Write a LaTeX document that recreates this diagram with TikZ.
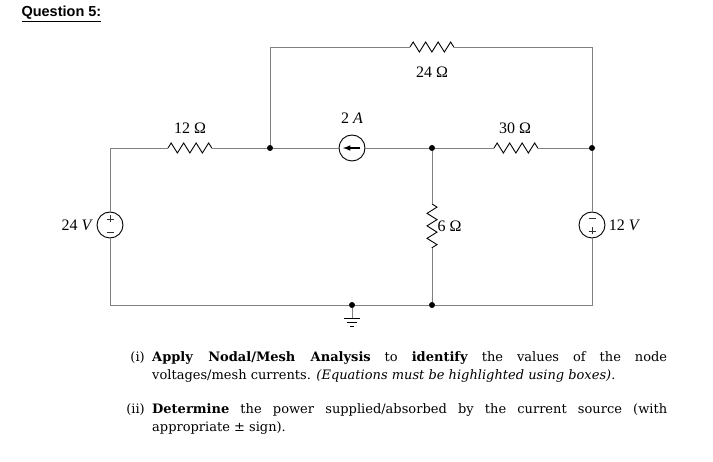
\documentclass[tikz,border=0pt]{standalone}
\usepackage{fontspec}
\usetikzlibrary{decorations.pathmorphing,calc}
\newfontfamily\titlefont{Liberation Sans}
\newfontfamily\bodyfont{DejaVu Serif}
\newfontfamily\labelfont{Liberation Serif}
\tikzset{
  wire/.style={draw=black!50,line width=.6pt},
  res/.style={draw=black,line width=.9pt,decorate,decoration={zigzag,amplitude=5,segment length=12.5}},
  dot/.style={fill=black,circle,inner sep=0,minimum size=6pt},
  src/.style={draw=black,circle,line width=.9pt,inner sep=0,minimum size=26pt},
  sgn/.style={draw=black!80,line width=.7pt},
  lbl/.style={font=\labelfont\fontsize{16}{16}\selectfont},
  txt/.style={anchor=north west,text width=515pt,align=justify,inner sep=0pt,font=\bodyfont\fontsize{13}{18}\selectfont},
  num/.style={anchor=north east,inner sep=0pt,font=\bodyfont\fontsize{13}{18}\selectfont}
}
\newcommand{\plussign}[1]{\draw[sgn] ($(#1)+(-3.5,0)$) -- ++(7,0) ($(#1)+(0,-3.5)$) -- ++(0,7);}
\newcommand{\minussign}[1]{\draw[sgn] ($(#1)+(-3.5,0)$) -- ++(7,0);}
\begin{document}
\begin{tikzpicture}[x=1pt,y=-1pt]
  \useasboundingbox (0,0) rectangle (713,462);
  \node[anchor=west,font=\titlefont\bfseries\fontsize{14.5}{14.5}\selectfont] (title) at (18,14) {\underline{Question 5:}};
  % nodes of the circuit
  \coordinate (tl) at (110,148);
  \node[dot] (n1) at (270,148) {};
  \node[dot] (n2) at (432,148) {};
  \node[dot] (n3) at (592,148) {};
  \coordinate (bl) at (110,305);
  \node[dot] (g) at (352,305) {};
  \node[dot] (n4) at (432,305) {};
  \coordinate (br) at (592,305);
  \coordinate (t1) at (270,47);
  \coordinate (t2) at (592,47);
  % sources
  \node[src] (vs1) at (110,225) {};
  \plussign{110,219}
  \minussign{110,232}
  \node[lbl,left] at (vs1.west) {24 \textit{V}};
  \node[src] (vs2) at (592,225) {};
  \minussign{592,218}
  \plussign{592,231}
  \node[lbl,right] at (vs2.east) {12 \textit{V}};
  \node[src] (cs) at (352,148) {};
  \draw[-latex,line width=1.5pt] ($(cs)+(8,0)$) -- ($(cs)+(-9,0)$);
  \node[lbl] at (352,118) {2 \textit{A}};
  % resistors
  \coordinate (r1a) at (168,148); \coordinate (r1b) at (212,148);
  \coordinate (r2a) at (494,148); \coordinate (r2b) at (538,148);
  \coordinate (r3a) at (410,47); \coordinate (r3b) at (454,47);
  \coordinate (r4a) at (432,204); \coordinate (r4b) at (432,248);
  \draw[res] (r1a) -- (r1b);
  \draw[res] (r2a) -- (r2b);
  \draw[res] (r3a) -- (r3b);
  \draw[res] (r4a) -- (r4b);
  \node[lbl] at (190,128) {12 Ω};
  \node[lbl] at (515,128) {30 Ω};
  \node[lbl] at (432,72) {24 Ω};
  \node[lbl,right] at (434,226) {6 Ω};
  % wiring
  \draw[wire] (vs1) -- (tl) -- (r1a);
  \draw[wire] (r1b) -- (n1) -- (cs);
  \draw[wire] (cs) -- (n2) -- (r2a);
  \draw[wire] (r2b) -- (n3) -- (vs2);
  \draw[wire] (n1) -- (t1) -- (r3a);
  \draw[wire] (r3b) -- (t2) -- (n3);
  \draw[wire] (n2) -- (r4a);
  \draw[wire] (r4b) -- (n4);
  \draw[wire] (vs1) -- (bl) -- (g) -- (n4) -- (br) -- (vs2);
  % ground
  \coordinate (g1) at (352,318);
  \draw[wire] (g) -- (g1);
  \draw[line width=.8pt] (344,318) -- (360,318) (347,322) -- (357,322) (350,326) -- (354,326);
  % questions
  \node[num] (q1l) at (145,351) {(i)};
  \node[txt] (q1) at (152,351)
    {\textbf{Apply Nodal/Mesh Analysis} to \textbf{identify} the values of the node\linebreak voltages/mesh currents. \textit{(Equations must be highlighted using boxes).}};
  \node[num] (q2l) at (145,403) {(ii)};
  \node[txt] (q2) at (152,403)
    {\textbf{Determine} the power supplied/absorbed by the current source (with\linebreak appropriate ± sign).};
\end{tikzpicture}
\end{document}
